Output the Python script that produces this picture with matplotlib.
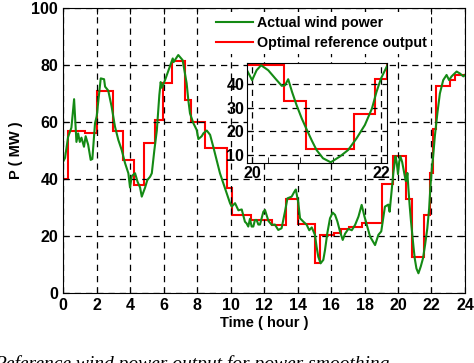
import matplotlib
matplotlib.use("Agg")
import matplotlib.pyplot as plt

plt.rcParams['font.family'] = ['Liberation Sans', 'DejaVu Sans']
plt.rcParams['font.weight'] = 'bold'

# actual wind power (hour, MW)
t_wind = [0.0, 0.12, 0.3, 0.5, 0.66, 0.8, 0.9, 1.0, 1.1, 1.25, 1.35, 1.5, 1.65, 1.75,
          1.91, 2.01, 2.17, 2.25, 2.45, 2.51, 2.7, 2.9, 3.1, 3.3, 3.5, 3.7, 3.9,
          4.0, 4.1, 4.3, 4.45, 4.6, 4.7, 4.9, 5.03, 5.2, 5.3, 5.45, 5.6, 5.75,
          5.83, 5.9, 6.09, 6.29, 6.55, 6.6, 6.88, 7.14, 7.28, 7.38, 7.48, 7.58,
          7.68, 7.78, 7.98, 8.08, 8.28, 8.38, 8.58, 8.78, 8.97, 9.17, 9.37, 9.57,
          9.77, 9.97, 10.07, 10.27, 10.47, 10.67, 10.86, 10.96, 11.06, 11.16,
          11.26, 11.36, 11.46, 11.56, 11.66, 11.76, 11.96, 12.06, 12.26, 12.46,
          12.65, 12.85, 13.05, 13.25, 13.4, 13.65, 13.81, 13.9, 14.05, 14.15,
          14.35, 14.55, 14.7, 14.85, 15.04, 15.14, 15.24, 15.38, 15.54, 15.64,
          15.78, 15.94, 16.1, 16.24, 16.38, 16.54, 16.7, 16.84, 17.04, 17.24,
          17.44, 17.64, 17.83, 18.0, 18.33, 18.63, 18.83, 19.0, 19.22, 19.42,
          19.5, 19.72, 19.85, 19.92, 20.0, 20.07, 20.14, 20.25, 20.36, 20.46,
          20.51, 20.56, 20.62, 20.69, 20.77, 20.85, 20.93, 21.0, 21.1, 21.22,
          21.36, 21.49, 21.62, 21.75, 21.86, 21.93, 22.0, 22.1, 22.2, 22.35,
          22.5, 22.7, 22.9, 23.05, 23.2, 23.5, 23.7, 23.9, 24.0]
p_wind = [46, 47.4, 54.7, 58, 68, 53, 56, 53, 54.5, 51.3, 55, 52, 46.7, 47,
          59.6, 62, 71, 75.3, 75, 72.4, 71, 65.4, 58.4, 53.7, 50.2, 45.6, 42,
          37, 41, 42, 39, 37, 33.8, 37, 39.6, 40.8, 42, 50, 57, 69.5,
          74, 72, 74.7, 78, 82.3, 81, 83.5, 81.7, 77, 73.6, 67.7, 63,
          61.3, 59.6, 57.2, 54, 55, 56, 57, 55.5, 51.3, 46.7, 42, 38.5,
          35, 31.5, 30.3, 31.5, 29, 29.3, 25, 24.4, 23.3, 26,
          23.3, 23.3, 25.6, 25.6, 24, 24, 28.5, 29.1, 25.3, 23.9,
          24, 22.1, 22.7, 28.5, 33.2, 33.8, 35.5, 36.3, 31.5, 26.2,
          25, 23.9, 22, 23, 20.4, 16.2, 12.7, 10.4, 11.6, 15,
          21, 26.2, 28.2, 27.4, 25.1, 21.5, 18.6, 20.8, 22.5, 22,
          23.9, 26.8, 30.9, 26.8, 19.8, 16.8, 20.4, 21.6, 30.3, 31,
          28.5, 42, 48, 45.9, 41.7, 45.9, 48, 45.9, 42.4, 39.3,
          39.5, 42.1, 36.7, 31.1, 25.5, 20.6, 15.9, 12.1, 8.6, 6.9,
          9.3, 12.1, 17, 22.7, 29.7, 36.7, 42.4, 48, 55, 63,
          70, 74.7, 76.5, 74.7, 76, 77.7, 77, 76, 76.5]

# optimal reference output: step edges (hour) and levels (MW)
ref_edges = [0, 0.3, 1.31, 2.05, 3.0, 3.58, 4.24, 4.84, 5.5, 5.95, 6.49, 7.28,
             7.62, 8.48, 9.77, 10.1, 11.2, 12.46, 13.33, 14.05, 15.04, 15.34,
             16.2, 16.6, 17.1, 17.85, 19.02, 19.72, 20.5, 20.84, 21.58, 21.9,
             22.1, 22.25, 23.1, 23.4, 24]
ref_levels = [40, 57, 56, 71, 57, 46.7, 38, 52.5, 60.7, 73.6, 81.5, 67.7,
              60.1, 50.8, 36.7, 27.5, 25.7, 24, 32.8, 24.2, 10.5, 20.2,
              21, 22.3, 23.3, 24.7, 38.3, 48, 33, 12.7, 27.5, 42,
              57.4, 72.6, 74.7, 76.5]

green = '#148a14'
red = '#ff0000'
dash = (0, (5, 4))

fig = plt.figure(figsize=(4.74, 3.63), dpi=100)
ax = fig.add_axes([0.133, 0.193, 0.848, 0.785])
ax.plot(t_wind, p_wind, color=green, linewidth=1.5, label='Actual wind power')
ax.stairs(ref_levels, ref_edges, color=red, linewidth=1.5, baseline=None,
          label='Optimal reference output')
ax.set_xlim(0, 24)
ax.set_ylim(0, 100)
ax.set_xticks(range(0, 25, 2))
ax.set_yticks(range(0, 101, 20))
ax.grid(True, color='black', linestyle=dash, linewidth=0.9)
ax.tick_params(direction='in', labelsize=11.5, top=True, right=True, length=4)
ax.set_xlabel('Time ( hour )', fontsize=10.5, fontweight='bold', labelpad=2)
ax.set_ylabel('P ( MW )', fontsize=10.5, fontweight='bold', labelpad=6)
leg = ax.legend(loc='upper left', bbox_to_anchor=(0.352, 1.012), fontsize=10.3,
                handlelength=2.6, handletextpad=0.25, borderpad=0.3,
                labelspacing=0.4, framealpha=1, fancybox=False)
leg.get_frame().set_edgecolor('none')

# zoomed inset 20-22 h
axi = fig.add_axes([0.521, 0.551, 0.295, 0.275])
axi.plot(t_wind, p_wind, color=green, linewidth=1.5)
axi.stairs(ref_levels, ref_edges, color=red, linewidth=1.5, baseline=None)
axi.set_xlim(19.92, 22.09)
axi.set_ylim(6.6, 48.9)
axi.set_xticks([20, 22])
axi.set_xticks([20.25, 20.75, 21.25, 21.75], minor=True)
axi.set_yticks([10, 20, 30, 40])
axi.grid(True, color='black', linestyle=dash, linewidth=0.9)
axi.tick_params(direction='in', labelsize=11.5, length=4, pad=2)
axi.tick_params(which='minor', direction='in', length=4)

fig.text(-0.012, 0.022, 'Reference wind power output for power smoothing',
         family='Liberation Serif', style='italic', fontweight='normal',
         fontsize=14, va='top', ha='left')

fig.savefig('out.png', dpi=100)
